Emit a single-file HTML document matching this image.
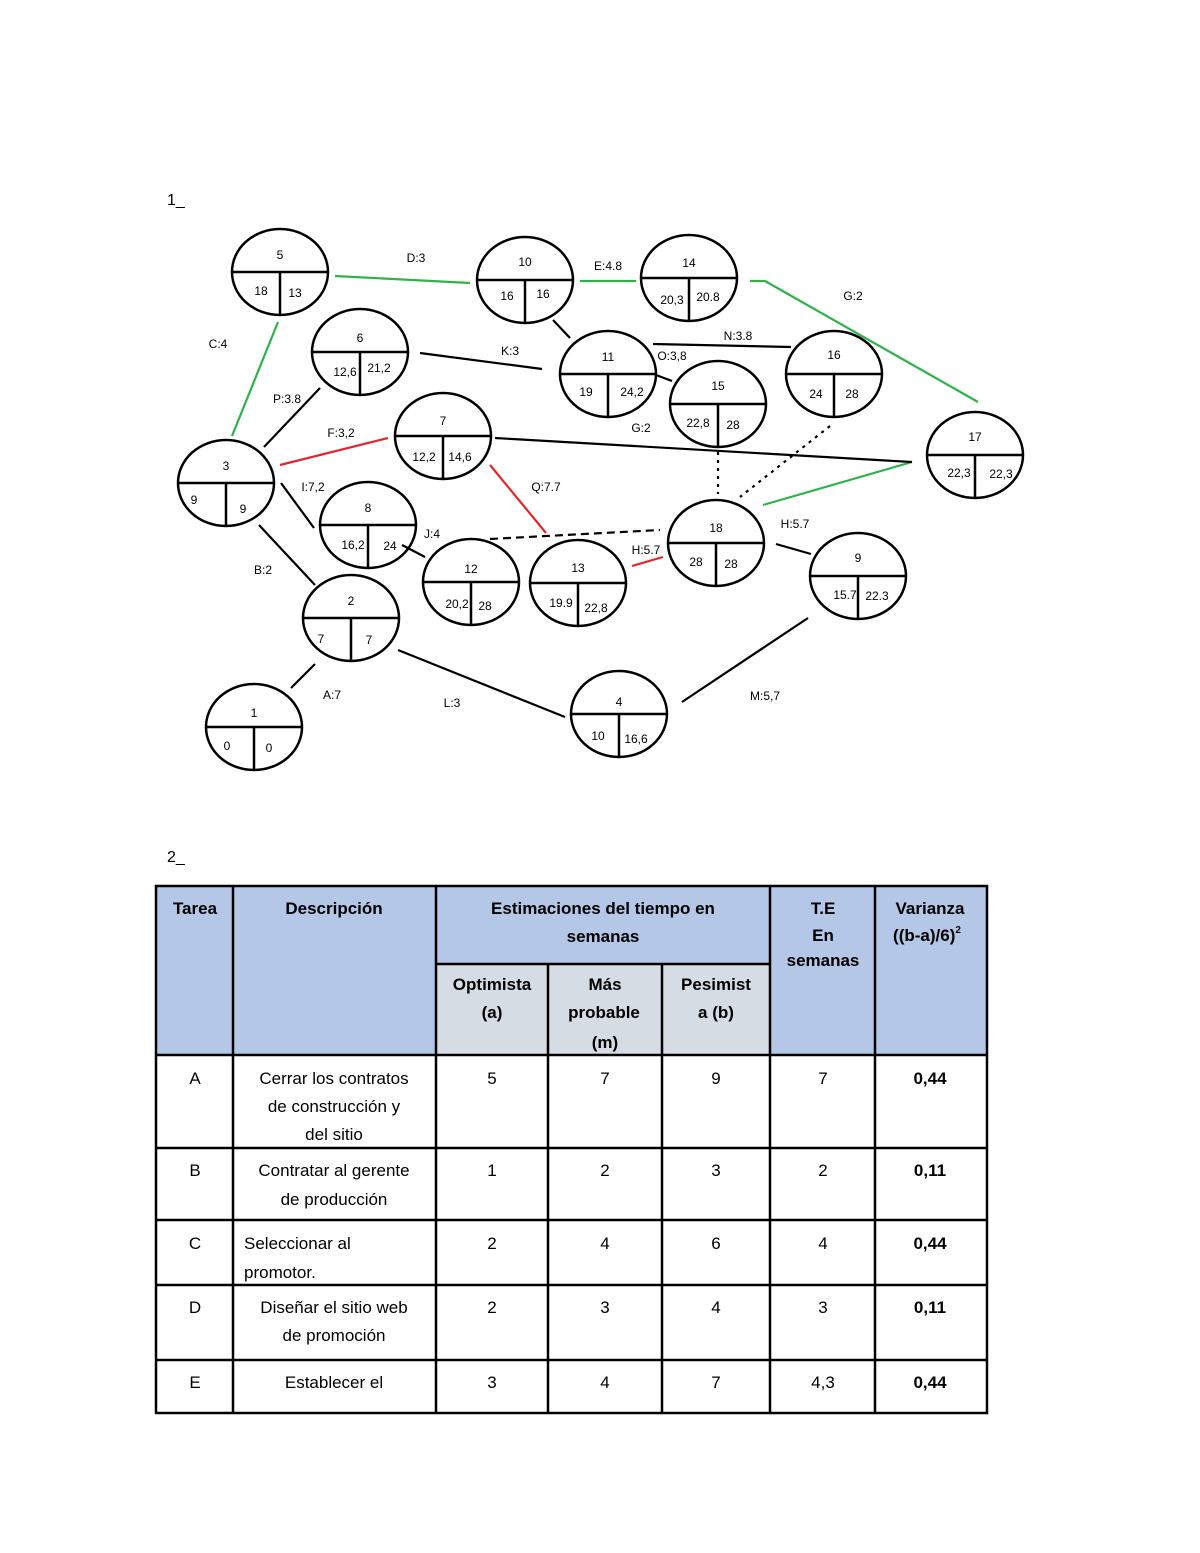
<!DOCTYPE html>
<html><head><meta charset="utf-8"><style>
html,body{margin:0;padding:0;background:#fff;}
svg{display:block;font-family:"Liberation Sans",sans-serif;}
.n{font-size:12px;fill:#000;text-anchor:middle;}
.l{font-size:12px;fill:#000;text-anchor:middle;}
.t{font-size:17px;fill:#000;text-anchor:middle;}
.b{font-weight:bold;}
</style></head><body>
<svg width="1200" height="1553" viewBox="0 0 1200 1553">
<defs>
<g id="nd">
<ellipse cx="0" cy="0" rx="48" ry="43" fill="none" stroke="#000" stroke-width="2.5"/>
<line x1="-48" y1="0" x2="48" y2="0" stroke="#000" stroke-width="2.5"/>
<line x1="0" y1="0" x2="0" y2="43" stroke="#000" stroke-width="2.5"/>
</g>
</defs>
<text x="167" y="205" font-size="16">1_</text>
<text x="167" y="862" font-size="16">2_</text>

<!-- edges -->
<g stroke-width="2.2" fill="none">
<line x1="335" y1="276" x2="470" y2="283" stroke="#2db34a"/>
<line x1="580" y1="281" x2="636" y2="281" stroke="#2db34a"/>
<polyline points="750,281 765,281 978,402" stroke="#2db34a"/>
<line x1="278" y1="322" x2="232" y2="436" stroke="#2db34a"/>
<line x1="763" y1="505" x2="912" y2="462" stroke="#2db34a"/>
<line x1="420" y1="353" x2="542" y2="369" stroke="#000"/>
<line x1="553" y1="320" x2="570" y2="338" stroke="#000"/>
<line x1="653" y1="344" x2="791" y2="347" stroke="#000"/>
<line x1="656" y1="375" x2="672" y2="381" stroke="#000"/>
<line x1="495" y1="438" x2="912" y2="462" stroke="#000"/>
<line x1="264" y1="447" x2="320" y2="388" stroke="#000"/>
<line x1="280" y1="465" x2="388" y2="438" stroke="#e3262b"/>
<line x1="281" y1="483" x2="314" y2="528" stroke="#000"/>
<line x1="402" y1="545" x2="425" y2="557" stroke="#000"/>
<line x1="490" y1="465" x2="546" y2="533" stroke="#e3262b"/>
<line x1="490" y1="539" x2="660" y2="530" stroke="#000" stroke-dasharray="8,5"/>
<line x1="718" y1="452" x2="718" y2="494" stroke="#000" stroke-dasharray="3,5"/>
<line x1="830" y1="426" x2="740" y2="497" stroke="#000" stroke-dasharray="3,5"/>
<line x1="632" y1="566" x2="663" y2="557" stroke="#e3262b"/>
<line x1="776" y1="544" x2="811" y2="554" stroke="#000"/>
<line x1="259" y1="525" x2="315" y2="585" stroke="#000"/>
<line x1="291" y1="688" x2="315" y2="664" stroke="#000"/>
<line x1="398" y1="650" x2="565" y2="717" stroke="#000"/>
<line x1="682" y1="702" x2="808" y2="618" stroke="#000"/>
</g>

<!-- edge labels -->
<g class="l">
<text x="416" y="262">D:3</text>
<text x="608" y="270">E:4.8</text>
<text x="853" y="300">G:2</text>
<text x="218" y="348">C:4</text>
<text x="510" y="355">K:3</text>
<text x="738" y="340">N:3.8</text>
<text x="672" y="360">O:3,8</text>
<text x="641" y="432">G:2</text>
<text x="287" y="403">P:3.8</text>
<text x="341" y="437">F:3,2</text>
<text x="313" y="491">I:7,2</text>
<text x="432" y="538">J:4</text>
<text x="546" y="491">Q:7.7</text>
<text x="646" y="554">H:5.7</text>
<text x="795" y="528">H:5.7</text>
<text x="263" y="574">B:2</text>
<text x="332" y="699">A:7</text>
<text x="452" y="707">L:3</text>
<text x="765" y="700">M:5,7</text>
</g>

<!-- nodes -->
<g class="n">
<g transform="translate(280,272)"><use href="#nd"/><text y="-13">5</text><text x="-19" y="23">18</text><text x="15" y="25">13</text></g>
<g transform="translate(525,280)"><use href="#nd"/><text y="-14">10</text><text x="-18" y="20">16</text><text x="18" y="18">16</text></g>
<g transform="translate(689,278)"><use href="#nd"/><text y="-11">14</text><text x="-17" y="26">20,3</text><text x="19" y="23">20.8</text></g>
<g transform="translate(360,352)"><use href="#nd"/><text y="-10">6</text><text x="-15" y="24">12,6</text><text x="19" y="20">21,2</text></g>
<g transform="translate(608,374)"><use href="#nd"/><text y="-13">11</text><text x="-22" y="22">19</text><text x="24" y="22">24,2</text></g>
<g transform="translate(718,404)"><use href="#nd"/><text y="-14">15</text><text x="-20" y="23">22,8</text><text x="15" y="25">28</text></g>
<g transform="translate(834,374)"><use href="#nd"/><text y="-15">16</text><text x="-18" y="24">24</text><text x="18" y="24">28</text></g>
<g transform="translate(443,436)"><use href="#nd"/><text y="-11">7</text><text x="-19" y="25">12,2</text><text x="17" y="25">14,6</text></g>
<g transform="translate(975,455)"><use href="#nd"/><text y="-14">17</text><text x="-16" y="22">22,3</text><text x="26" y="23">22,3</text></g>
<g transform="translate(226,483)"><use href="#nd"/><text y="-13">3</text><text x="-32" y="21">9</text><text x="17" y="30">9</text></g>
<g transform="translate(368,525)"><use href="#nd"/><text y="-13">8</text><text x="-15" y="24">16,2</text><text x="22" y="25">24</text></g>
<g transform="translate(471,582)"><use href="#nd"/><text y="-9">12</text><text x="-14" y="26">20,2</text><text x="14" y="28">28</text></g>
<g transform="translate(578,583)"><use href="#nd"/><text y="-11">13</text><text x="-17" y="24">19.9</text><text x="18" y="29">22,8</text></g>
<g transform="translate(716,543)"><use href="#nd"/><text y="-11">18</text><text x="-20" y="23">28</text><text x="15" y="25">28</text></g>
<g transform="translate(858,576)"><use href="#nd"/><text y="-14">9</text><text x="-13" y="23">15.7</text><text x="19" y="24">22.3</text></g>
<g transform="translate(351,618)"><use href="#nd"/><text y="-13">2</text><text x="-30" y="25">7</text><text x="18" y="26">7</text></g>
<g transform="translate(619,714)"><use href="#nd"/><text y="-8">4</text><text x="-21" y="26">10</text><text x="17" y="29">16,6</text></g>
<g transform="translate(254,727)"><use href="#nd"/><text y="-10">1</text><text x="-27" y="23">0</text><text x="15" y="25">0</text></g>
</g>

<!-- table -->
<rect x="156" y="886" width="831" height="169" fill="#b4c7e7"/>
<rect x="436" y="964" width="334" height="91" fill="#d6dce4"/>
<g stroke="#000" stroke-width="2.5" fill="none">
<rect x="156" y="886" width="831" height="527"/>
<line x1="233" y1="886" x2="233" y2="1413"/>
<line x1="436" y1="886" x2="436" y2="1413"/>
<line x1="548" y1="964" x2="548" y2="1413"/>
<line x1="662" y1="964" x2="662" y2="1413"/>
<line x1="770" y1="886" x2="770" y2="1413"/>
<line x1="875" y1="886" x2="875" y2="1413"/>
<line x1="436" y1="964" x2="770" y2="964"/>
<line x1="156" y1="1055" x2="987" y2="1055"/>
<line x1="156" y1="1148" x2="987" y2="1148"/>
<line x1="156" y1="1220" x2="987" y2="1220"/>
<line x1="156" y1="1285" x2="987" y2="1285"/>
<line x1="156" y1="1360" x2="987" y2="1360"/>
</g>
<g class="t b">
<text x="195" y="914">Tarea</text>
<text x="334" y="914">Descripción</text>
<text x="603" y="914">Estimaciones del tiempo en</text>
<text x="603" y="942">semanas</text>
<text x="823" y="914">T.E</text>
<text x="823" y="941">En</text>
<text x="823" y="966">semanas</text>
<text x="930" y="914">Varianza</text>
<text x="927" y="941">((b-a)/6)<tspan font-size="10" dy="-8">2</tspan></text>
<text x="492" y="990">Optimista</text>
<text x="492" y="1018">(a)</text>
<text x="605" y="990">Más</text>
<text x="604" y="1018">probable</text>
<text x="605" y="1048">(m)</text>
<text x="716" y="990">Pesimist</text>
<text x="716" y="1018">a (b)</text>
</g>
<g class="t">
<text x="195" y="1084">A</text><text x="334" y="1084">Cerrar los contratos</text><text x="334" y="1112">de construcción y</text><text x="334" y="1140">del sitio</text>
<text x="492" y="1084">5</text><text x="605" y="1084">7</text><text x="716" y="1084">9</text><text x="823" y="1084">7</text><text x="930" y="1084" class="b">0,44</text>
<text x="195" y="1176">B</text><text x="334" y="1176">Contratar al gerente</text><text x="334" y="1205">de producción</text>
<text x="492" y="1176">1</text><text x="605" y="1176">2</text><text x="716" y="1176">3</text><text x="823" y="1176">2</text><text x="930" y="1176" class="b">0,11</text>
<text x="195" y="1249">C</text><text x="244" y="1249" text-anchor="start">Seleccionar al</text><text x="244" y="1278" text-anchor="start">promotor.</text>
<text x="492" y="1249">2</text><text x="605" y="1249">4</text><text x="716" y="1249">6</text><text x="823" y="1249">4</text><text x="930" y="1249" class="b">0,44</text>
<text x="195" y="1313">D</text><text x="334" y="1313">Diseñar el sitio web</text><text x="334" y="1341">de promoción</text>
<text x="492" y="1313">2</text><text x="605" y="1313">3</text><text x="716" y="1313">4</text><text x="823" y="1313">3</text><text x="930" y="1313" class="b">0,11</text>
<text x="195" y="1388">E</text><text x="334" y="1388">Establecer el</text>
<text x="492" y="1388">3</text><text x="605" y="1388">4</text><text x="716" y="1388">7</text><text x="823" y="1388">4,3</text><text x="930" y="1388" class="b">0,44</text>
</g>
</svg>
</body></html>
